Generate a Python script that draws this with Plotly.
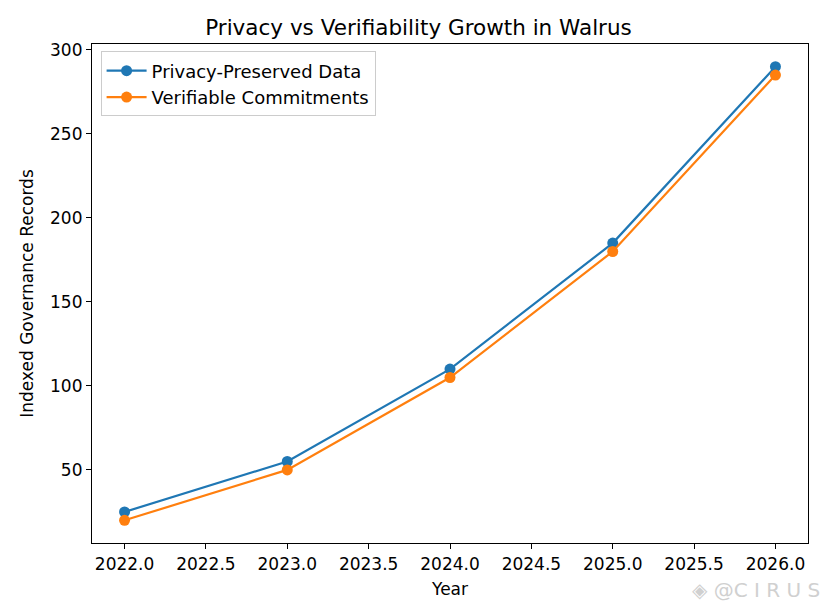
import plotly.graph_objects as go

years = [2022, 2023, 2024, 2025, 2026]
privacy = [25, 55, 110, 185, 290]
verifiable = [20, 50, 105, 180, 285]

x_ticks = [2022.0, 2022.5, 2023.0, 2023.5, 2024.0, 2024.5, 2025.0, 2025.5, 2026.0]
y_ticks = [50, 100, 150, 200, 250, 300]

fig = go.Figure()
fig.add_trace(go.Scatter(
    x=years, y=privacy, mode="lines+markers", name="Privacy-Preserved Data",
    line=dict(color="#1f77b4", width=2.2), marker=dict(size=11, color="#1f77b4"),
))
fig.add_trace(go.Scatter(
    x=years, y=verifiable, mode="lines+markers", name="Verifiable Commitments",
    line=dict(color="#ff7f0e", width=2.2), marker=dict(size=11, color="#ff7f0e"),
))

axis_style = dict(
    showgrid=False, zeroline=False, showline=True, linecolor="black", linewidth=1.2,
    mirror=True, ticks="outside", ticklen=5, tickcolor="black",
    tickfont=dict(size=17, color="black"),
)

fig.update_xaxes(
    range=[2021.8, 2026.2], tickvals=x_ticks,
    ticktext=[f"{v:.1f}" for v in x_ticks],
    title=dict(text="Year", font=dict(size=17, color="black"), standoff=10),
    **axis_style,
)
fig.update_yaxes(
    range=[6.5, 303.5], tickvals=y_ticks,
    title=dict(text="Indexed Governance Records", font=dict(size=17, color="black"), standoff=12),
    **axis_style,
)

# faint watermark, bottom right
fig.add_annotation(
    text="◈ @C I R U S", xref="paper", yref="paper", x=1.02, y=-0.095,
    xanchor="right", yanchor="middle", showarrow=False,
    font=dict(size=20, color="#d0d0d0"),
)

fig.update_layout(
    width=821, height=602,
    margin=dict(l=84, r=21, t=36, b=67),
    paper_bgcolor="white", plot_bgcolor="white",
    font=dict(family="DejaVu Sans", color="black"),
    title=dict(text="Privacy vs Verifiability Growth in Walrus", x=0.5, xanchor="center",
               y=0.968, yanchor="middle", font=dict(size=21.5, color="black")),
    legend=dict(
        x=0.012, y=0.985, xanchor="left", yanchor="top",
        bgcolor="rgba(255,255,255,0.8)", bordercolor="#cccccc", borderwidth=1,
        font=dict(size=18, color="black"), itemwidth=40,
    ),
    showlegend=True,
)

fig.write_html("out.html")
